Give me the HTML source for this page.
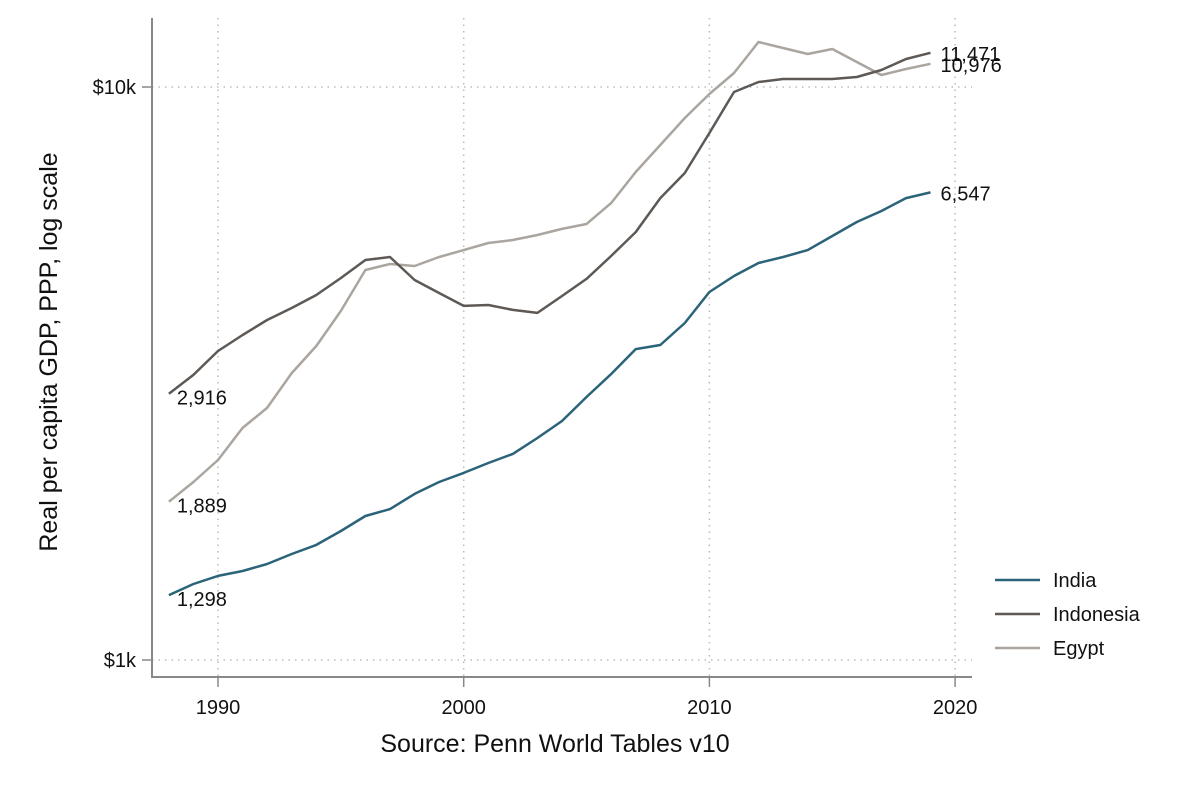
<!DOCTYPE html>
<html><head><meta charset="utf-8"><style>
body{margin:0;background:#fff;}
svg text{font-family:"Liberation Sans",Arial,sans-serif;fill:#111;}
</style></head><body>
<svg id="chart" width="1200" height="799" viewBox="0 0 1200 799" xmlns="http://www.w3.org/2000/svg">
<g id="grid"></g>
<g id="axes"></g>
<g id="series"></g>
<g id="labels"></g>
<text transform="translate(57,352) rotate(-90)" text-anchor="middle" font-size="25">Real per capita GDP, PPP, log scale</text>
<text x="555" y="752" text-anchor="middle" font-size="25">Source: Penn World Tables v10</text>
<g id="legend"></g>
</svg>
<script>
const years = [1988,1989,1990,1991,1992,1993,1994,1995,1996,1997,1998,1999,2000,2001,2002,2003,2004,2005,2006,2007,2008,2009,2010,2011,2012,2013,2014,2015,2016,2017,2018,2019];
const india = [1298,1357,1402,1430,1471,1531,1588,1679,1784,1834,1949,2045,2121,2207,2289,2440,2613,2877,3155,3488,3546,3874,4387,4679,4930,5050,5193,5495,5814,6076,6400,6547];
const indonesia = [2916,3144,3461,3692,3921,4115,4335,4642,4990,5050,4605,4370,4149,4165,4083,4034,4318,4624,5070,5582,6400,7078,8312,9801,10204,10327,10327,10327,10410,10707,11190,11471];
const egypt = [1889,2045,2234,2541,2754,3168,3532,4066,4793,4910,4871,5050,5193,5342,5408,5518,5653,5767,6272,7107,7921,8829,9723,10578,11981,11697,11418,11651,11058,10494,10750,10976];
const seriesNames = ["India","Indonesia","Egypt"];
const xTicks = [1990,2000,2010,2020];
const yTicks = [1000,10000];
const yTickLabels = ["$1k","$10k"];

const NS="http://www.w3.org/2000/svg";
function xs(yr){return 218+(yr-1990)*24.57;}
function ys(v){return 87-(Math.log10(v)-4)*573;}
function mk(tag,attrs,parent,text){const e=document.createElementNS(NS,tag);for(const k in attrs)e.setAttribute(k,attrs[k]);if(text!==undefined)e.textContent=text;parent.appendChild(e);return e;}
const grid=document.getElementById('grid'),axes=document.getElementById('axes'),ser=document.getElementById('series'),lab=document.getElementById('labels'),leg=document.getElementById('legend');
const L=152,R=972,T=18,B=677;
xTicks.forEach(t=>{
  const g=mk('line',{x1:xs(t),x2:xs(t),y1:T,y2:B,stroke:'#bbb','stroke-width':1.5,'stroke-dasharray':'1.5 5'},grid);
  
  
  const tk=mk('line',{x1:xs(t),x2:xs(t),y1:B,y2:B+10,stroke:'#888','stroke-width':1.5},axes);
  
  
  const tl=mk('text',{x:xs(t),y:B+37,'text-anchor':'middle','font-size':20},axes,String(t));
  
  
});
yTicks.forEach((t,i)=>{
  const g=mk('line',{x1:L,x2:R,y1:ys(t),y2:ys(t),stroke:'#bbb','stroke-width':1.5,'stroke-dasharray':'1.5 5'},grid);
  
  
  const tk=mk('line',{x1:L-10,x2:L,y1:ys(t),y2:ys(t),stroke:'#888','stroke-width':1.5},axes);
  
  
  const tl=mk('text',{x:L-16,y:ys(t)+7,'text-anchor':'end','font-size':20},axes,yTickLabels[i]);
  
  
});
const ax=mk('path',{d:`M${L},${T} L${L},${B} L${R},${B}`,fill:'none',stroke:'#888','stroke-width':2},axes);


const data=[india,indonesia,egypt];
const colors=['#2b6379','#5e5955','#aba59f'];
const order=[2,1,0];
order.forEach(i=>{
  const d=data[i].map((v,j)=>(j?'L':'M')+xs(years[j]).toFixed(1)+','+ys(v).toFixed(1)).join(' ');
  const p=mk('path',{d:d,fill:'none',stroke:colors[i],'stroke-width':2.5,'stroke-linejoin':'round'},ser);
  
  
});
const fmt=v=>v.toLocaleString('en-US');
data.forEach((arr,i)=>{
  const s=mk('text',{x:xs(years[0])+8,y:ys(arr[0])+11,'font-size':20},lab,fmt(arr[0]));
  
  
  const n=arr.length-1;
  const e=mk('text',{x:xs(years[n])+10,y:ys(arr[n])+8,'font-size':20},lab,fmt(arr[n]));
  
  
});
seriesNames.forEach((nm,i)=>{
  const y=580+i*34;
  const l=mk('line',{x1:995,x2:1040,y1:y,y2:y,stroke:colors[i],'stroke-width':2.5},leg);
  
  
  const t=mk('text',{x:1053,y:y+7,'font-size':20},leg,nm);
  
  
});
</script>
</body></html>
